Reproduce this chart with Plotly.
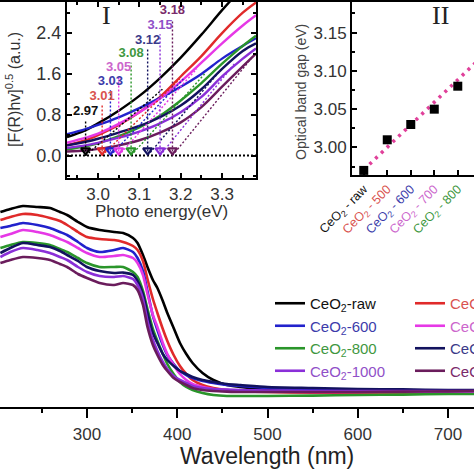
import numpy as np
import plotly.graph_objects as go

# ---------------- data ----------------
samples = ["raw", "500", "600", "700", "800", "900", "1000", "1100"]
colors = ["#000000", "#e02a2a", "#2222cc", "#e638e6", "#2a952a", "#12125e", "#8a2fd8", "#6a1c5c"]
text_colors = ["#111111", "#d9534f", "#3c3caa", "#cc66cc", "#3f983f", "#3a3a88", "#9050c8", "#7a2a6a"]

wavelength = [204, 215, 229, 245, 259, 270, 278, 290, 300, 314, 330, 340, 351, 356, 362, 367, 373,
              378, 384, 389, 396, 403, 410, 417, 428, 440, 455, 470, 500, 550, 600, 650, 700, 730]
abs_raw = [.975, .99, 1.005, 1.0, .995, .975, .96, .925, .90, .885, .875, .87, .845, .82, .76, .70, .635,
           .595, .53, .47, .395, .32, .265, .22, .17, .135, .11, .10, .085, .08, .08, .078, .075, .075]
abs_500 = [.935, .95, .965, .96, .945, .93, .91, .875, .85, .84, .835, .825, .805, .785, .73, .64, .54,
           .47, .39, .33, .26, .205, .165, .135, .11, .095, .085, .08, .075, .072, .07, .07, .072, .075]
abs_600 = [.895, .905, .92, .91, .895, .875, .86, .825, .795, .775, .785, .795, .775, .745, .68, .58, .455,
           .385, .31, .26, .215, .18, .16, .145, .13, .12, .11, .105, .095, .09, .085, .082, .08, .08]
abs_700 = [.85, .865, .885, .875, .86, .84, .825, .795, .77, .75, .755, .76, .745, .72, .66, .565, .46,
           .40, .32, .265, .21, .165, .135, .115, .10, .09, .085, .08, .078, .075, .075, .075, .075, .075]
abs_800 = [.795, .81, .825, .82, .81, .79, .775, .745, .72, .70, .70, .70, .675, .65, .58, .49, .39,
           .33, .265, .215, .165, .125, .10, .085, .07, .06, .055, .055, .055, .057, .06, .062, .065, .065]
abs_900 = [.77, .795, .82, .81, .80, .78, .76, .73, .70, .68, .67, .672, .66, .63, .565, .47, .37,
           .32, .265, .235, .205, .18, .165, .15, .135, .125, .115, .11, .10, .095, .09, .088, .085, .085]
abs_1000 = [.75, .775, .795, .785, .77, .75, .735, .70, .675, .655, .65, .655, .64, .61, .54, .43, .335,
            .28, .225, .19, .155, .135, .12, .105, .095, .09, .087, .085, .082, .08, .08, .08, .08, .08]
abs_1100 = [.72, .735, .75, .745, .735, .715, .70, .665, .645, .62, .61, .62, .61, .585, .51, .40, .31,
            .26, .21, .18, .145, .125, .11, .095, .085, .08, .077, .075, .075, .075, .075, .077, .078, .08]
absorbance = [abs_raw, abs_500, abs_600, abs_700, abs_800, abs_900, abs_1000, abs_1100]

# inset I : Kubelka-Munk plots
energy = [2.925, 2.97, 3.0, 3.05, 3.1, 3.15, 3.2, 3.25, 3.3, 3.35, 3.382]
km_raw = [0.36, 0.50, 0.63, 0.88, 1.17, 1.52, 1.92, 2.37, 2.85, 3.3, 3.6]
km_500 = [0.20, 0.30, 0.40, 0.60, 0.85, 1.15, 1.55, 1.95, 2.40, 2.80, 3.00]
km_600 = [0.42, 0.52, 0.60, 0.75, 0.93, 1.13, 1.35, 1.60, 1.90, 2.15, 2.30]
km_700 = [0.25, 0.35, 0.43, 0.62, 0.85, 1.12, 1.45, 1.82, 2.20, 2.55, 2.75]
km_800 = [0.12, 0.18, 0.24, 0.38, 0.55, 0.78, 1.08, 1.42, 1.80, 2.15, 2.35]
km_900 = [0.20, 0.27, 0.33, 0.45, 0.58, 0.75, 0.98, 1.30, 1.70, 2.05, 2.20]
km_1000 = [0.15, 0.20, 0.25, 0.35, 0.47, 0.63, 0.85, 1.15, 1.55, 1.90, 2.10]
km_1100 = [0.08, 0.10, 0.13, 0.20, 0.30, 0.45, 0.65, 0.95, 1.35, 1.75, 2.00]
km = [km_raw, km_500, km_600, km_700, km_800, km_900, km_1000, km_1100]

band_gap = [2.97, 3.01, 3.03, 3.05, 3.08, 3.12, 3.15, 3.18]
tangent_slope = [7.0, 8.0, 8.5, 9.0, 9.0, 9.5, 10.0, 10.0]
tangent_top = [1.3, 1.5, 1.5, 1.7, 1.6, 1.7, 1.8, 1.9]
label_height = [0.86, 1.15, 1.45, 1.72, 1.99, 2.26, 2.55, 2.83]

# inset II : band gap vs sample
sample_index = [1, 2, 3, 4, 5, 6, 7, 8]

FONT = "Arial, Liberation Sans, sans-serif"

def sub_name(s, sep="-"):
    return "CeO<sub>2</sub>" + sep + s

fig = go.Figure()

legend_of = ["legend", "legend2"] * 4
for i, s in enumerate(samples):
    fig.add_trace(go.Scatter(
        x=wavelength, y=absorbance[i], mode="lines",
        line=dict(color=colors[i], width=2.6, shape="spline", smoothing=0.6),
        name="<span style='color:%s'>%s</span>" % (text_colors[i], sub_name(s)),
        legend=legend_of[i], xaxis="x", yaxis="y"))

# inset I traces
for i, s in enumerate(samples):
    fig.add_trace(go.Scatter(x=energy, y=km[i], mode="lines",
                             line=dict(color=colors[i], width=2.4, shape="spline"),
                             showlegend=False, xaxis="x2", yaxis="y2"))
for i, s in enumerate(samples):
    eg = band_gap[i]
    top = tangent_top[i]
    fig.add_trace(go.Scatter(x=[eg, eg + top / tangent_slope[i]], y=[0, top], mode="lines",
                             line=dict(color=colors[i], width=1.4, dash="2px,2px"),
                             showlegend=False, xaxis="x2", yaxis="y2"))
    fig.add_trace(go.Scatter(x=[eg, eg], y=[0, label_height[i] - 0.17], mode="lines",
                             line=dict(color=colors[i], width=1.4, dash="2px,2px"),
                             showlegend=False, xaxis="x2", yaxis="y2"))
fig.add_trace(go.Scatter(x=[2.925, 3.382], y=[0, 0], mode="lines",
                         line=dict(color="black", width=2, dash="2px,2px"),
                         showlegend=False, xaxis="x2", yaxis="y2"))
fig.add_trace(go.Scatter(x=band_gap, y=[0.1] * len(band_gap), mode="markers",
                         marker=dict(symbol="triangle-down-open", size=8, color=colors,
                                     line=dict(width=2.2, color=colors)),
                         showlegend=False, xaxis="x2", yaxis="y2"))
fig.add_trace(go.Scatter(x=band_gap, y=label_height, mode="text",
                         text=["<b>%.2f</b>" % g for g in band_gap],
                         textfont=dict(color=text_colors, size=13, family=FONT),
                         showlegend=False, xaxis="x2", yaxis="y2"))

# inset II traces
slope, icpt = np.polyfit(sample_index, band_gap, 1)
fit_x = [sample_index[0], sample_index[-1]]
fig.add_trace(go.Scatter(x=fit_x, y=[icpt + slope * v for v in fit_x], mode="lines",
                         line=dict(color="#e0409a", width=3.5, dash="3px,5px"),
                         showlegend=False, xaxis="x3", yaxis="y3"))
fig.add_trace(go.Scatter(x=sample_index, y=band_gap, mode="markers",
                         marker=dict(symbol="square", size=9, color="black"),
                         showlegend=False, xaxis="x3", yaxis="y3"))

# ---------------- layout ----------------
H_PLOT = 405.0
def py(p):
    return (407 - p) / H_PLOT
def px(p):
    return p / 474.0

common_frame = dict(showline=True, linecolor="black", linewidth=2, showgrid=False, zeroline=False)

def note(text, x, y, size, color="#333333", family=FONT, angle=0):
    return dict(text=text, x=px(x), y=py(y), xref="paper", yref="paper", showarrow=False,
                xanchor="center", yanchor="middle", textangle=angle,
                font=dict(family=family, size=size, color=color))

fig.update_layout(
    width=474, height=474,
    margin=dict(l=0, r=0, t=2, b=67, autoexpand=False),
    paper_bgcolor="white", plot_bgcolor="rgba(0,0,0,0)",
    font=dict(family=FONT, color="#333333"),
    xaxis=dict(domain=[0, 1], range=[203.6, 728.8], tick0=200, dtick=100, ticks="outside",
               ticklen=9, tickwidth=2, tickcolor="black", mirror=True, ticklabelstandoff=2,
               minor=dict(dtick=50, ticks="outside", ticklen=4, tickwidth=2, tickcolor="black"),
               tickfont=dict(family=FONT, size=17, color="#333333"), **common_frame),
    yaxis=dict(domain=[0, 1], range=[0, 2.025], visible=False),
    xaxis2=dict(domain=[px(67), px(256)], range=[2.925, 3.382], anchor="y2", mirror="ticks",
                tick0=3.0, dtick=0.1, tickformat=".1f", ticks="inside", ticklen=5, tickwidth=1.5,
                tickcolor="black",
                minor=dict(dtick=0.05, ticks="inside", ticklen=3, tickwidth=1.5, tickcolor="black"),
                tickfont=dict(family=FONT, size=17, color="#333333"), **common_frame),
    yaxis2=dict(domain=[py(178), 1.0], range=[-0.44, 3.01], anchor="x2", mirror="ticks",
                tick0=0, dtick=0.8, tickformat=".1f", ticks="inside", ticklen=5, tickwidth=1.5,
                tickcolor="black",
                minor=dict(dtick=0.4, ticks="inside", ticklen=3, tickwidth=1.5, tickcolor="black"),
                tickfont=dict(family=FONT, size=18, color="#333333"), **common_frame),
    xaxis3=dict(domain=[px(352), 1.0], range=[0.5, 5.69], anchor="y3", mirror=True,
                tickvals=sample_index,
                ticktext=["<span style='color:%s'>%s</span>" % (text_colors[i], sub_name(s, " - "))
                          for i, s in enumerate(samples)],
                tickangle=-45, ticks="inside", ticklen=5, tickwidth=1.5, tickcolor="black",
                tickfont=dict(family=FONT, size=12.5), **common_frame),
    yaxis3=dict(domain=[py(175), 1.0], range=[2.964, 3.19], anchor="x3",
                tick0=3.0, dtick=0.05, tickformat=".2f", ticks="inside", ticklen=5, tickwidth=1.5,
                tickcolor="black",
                minor=dict(dtick=0.025, ticks="inside", ticklen=3, tickwidth=1.5, tickcolor="black"),
                tickfont=dict(family=FONT, size=17, color="#333333"), **common_frame),
    legend=dict(x=px(270), y=py(287), xanchor="left", yanchor="top", bgcolor="rgba(0,0,0,0)",
                font=dict(family=FONT, size=15), tracegroupgap=0, itemwidth=30),
    legend2=dict(x=px(410), y=py(287), xanchor="left", yanchor="top", bgcolor="rgba(0,0,0,0)",
                 font=dict(family=FONT, size=15), tracegroupgap=0, itemwidth=30),
    annotations=[
        note("Wavelength (nm)", 267, 456, 23, "#222222"),
        note("Photo energy(eV)", 161, 211, 17),
        note("[F(R)hv]<sup>0.5</sup> (a.u.)", 13, 90, 16, angle=-90),
        note("Optical band gap (eV)", 301, 92, 14, "#444444", angle=-90),
        note("I", 106, 16, 26, "#222222", "Liberation Serif, serif"),
        note("II", 440, 16, 26, "#222222", "Liberation Serif, serif"),
    ],
)

fig.write_html("out.html")
